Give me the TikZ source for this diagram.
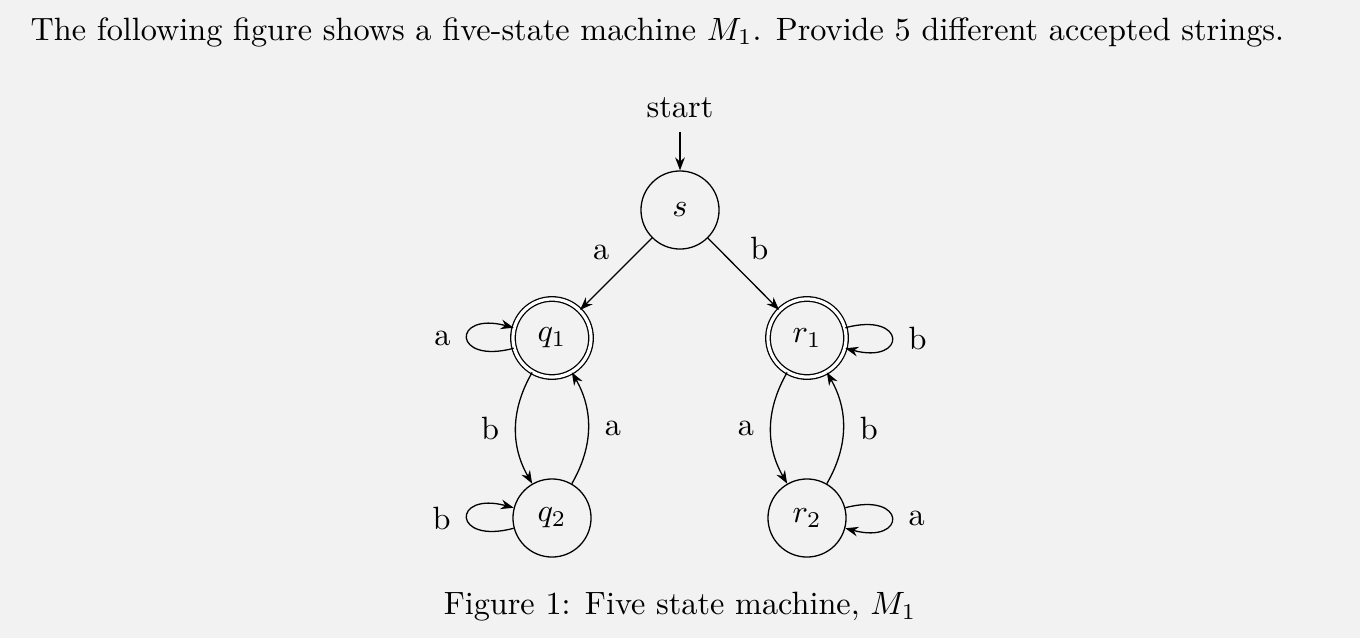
\documentclass[tikz,border=0pt]{standalone}
\usetikzlibrary{arrows.meta,automata}
\begin{document}
\begin{tikzpicture}[x=0.31pt,y=-0.31pt,>={Stealth[length=4pt,width=3pt]},
  st/.style={circle,draw,minimum size=24.2pt,inner sep=0pt,line width=0.4pt},
  acc/.style={double,double distance=1pt},
  lbl/.style={inner sep=0pt},
  every loop/.style={min distance=16pt,looseness=8}]
\fill[gray!10] (0,0) rectangle (1360,638);
\useasboundingbox (0,0) rectangle (1360,638);
\node[lbl,anchor=west] (title) at (30,32) {The following figure shows a five-state machine $M_1$. Provide 5 different accepted strings.};
\node[lbl] (start) at (680,108) {start};
\node[st] (s) at (680,210) {$s$};
\node[st,acc] (q1) at (552,338) {$q_1$};
\node[st,acc] (r1) at (807,338) {$r_1$};
\node[st] (q2) at (552,518) {$q_2$};
\node[st] (r2) at (807,518) {$r_2$};
\draw[->] (start.south) ++(0,-4pt) coordinate (st0) (st0) -- (s);
\draw[->] (s) -- node[lbl,pos=0.45,above left=3pt] {a} (q1);
\draw[->] (s) -- node[lbl,pos=0.45,above right=3pt] {b} (r1);
\draw[->] (q1) edge[loop left] node[lbl,left=5pt] {a} (q1);
\draw[->] (q2) edge[loop left] node[lbl,left=5pt] {b} (q2);
\draw[->] (r1) edge[loop right] node[lbl,right=5pt] {b} (r1);
\draw[->] (r2) edge[loop right] node[lbl,right=5pt] {a} (r2);
\draw[->] (q1) to[bend right=30] node[lbl,left=5pt] {b} (q2);
\draw[->] (q2) to[bend right=30] node[lbl,right=5pt] {a} (q1);
\draw[->] (r1) to[bend right=30] node[lbl,left=5pt] {a} (r2);
\draw[->] (r2) to[bend right=30] node[lbl,right=5pt] {b} (r1);
\node[lbl] (cap) at (680,607) {Figure 1: Five state machine, $M_1$};
\end{tikzpicture}
\end{document}
